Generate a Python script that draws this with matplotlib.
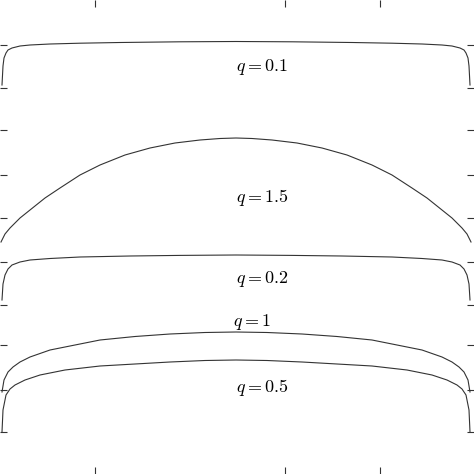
import matplotlib
matplotlib.use("Agg")
import matplotlib.pyplot as plt
import numpy as np

plt.rcParams['mathtext.fontset'] = 'cm'

# half-curve samples (pixel-like units), mirrored about center 236
xs_q01 = [2, 3, 4, 6, 8, 12, 20, 30, 50, 80, 120, 180, 236]
ys_q01 = [85, 66, 58, 53, 50, 48, 46, 45, 44, 43.2, 42.5, 41.8, 41.5]
xs_q15 = [1, 5, 10, 20, 30, 45, 60, 80, 100, 125, 150, 175, 200, 220, 236]
ys_q15 = [242, 234, 228, 218, 210, 198, 188, 175, 165, 155, 148, 143, 140, 138.5, 138]
xs_q02 = [2, 3, 5, 8, 12, 20, 30, 50, 80, 130, 180, 236]
ys_q02 = [300, 284, 275, 269, 265, 262, 260, 258.5, 257, 256, 255.4, 255]
xs_q1 = [2, 4, 8, 13, 20, 30, 50, 75, 100, 135, 170, 205, 236]
ys_q1 = [392, 380, 372, 367, 362, 357, 350, 345, 340, 336.5, 334, 332.5, 332]
xs_q05 = [2, 3, 6, 10, 15, 25, 40, 65, 100, 135, 170, 205, 236]
ys_q05 = [432, 410, 395, 389, 385, 380, 375, 370, 366, 364, 362, 360.5, 360]
labels = ["$q = 0.1$", "$q = 1.5$", "$q = 0.2$", "$q = 1$", "$q = 0.5$"]
label_y = [67, 198, 279, 322, 388]
label_x = [262, 262, 262, 252, 262]

fig = plt.figure(figsize=(4.74, 4.74), dpi=100)
ax = fig.add_axes([0, 0, 1, 1])
for xs, ys in [(xs_q01, ys_q01), (xs_q15, ys_q15), (xs_q02, ys_q02), (xs_q1, ys_q1), (xs_q05, ys_q05)]:
    xa = np.array(xs, float); ya = np.array(ys, float)
    xf = np.concatenate([xa, (472 - xa[::-1])[1:]])
    yf = np.concatenate([ya, ya[::-1][1:]])
    ax.plot(xf, yf, color='#333333', lw=0.8)
for lx, ly, t in zip(label_x, label_y, labels):
    ax.text(lx, ly, t, ha='center', va='center', fontsize=13)
ax.set_xlim(0, 474)
ax.set_ylim(474, 0)
for s in ax.spines.values():
    s.set_visible(False)
ax.set_xticks([95, 285, 380])
ax.set_yticks([45, 88, 130, 175, 218, 262, 305, 345, 390, 432])
ax.tick_params(direction='in', length=5, top=True, right=True, labelbottom=False, labelleft=False, color='#333333')
fig.savefig("out.png", dpi=100)
